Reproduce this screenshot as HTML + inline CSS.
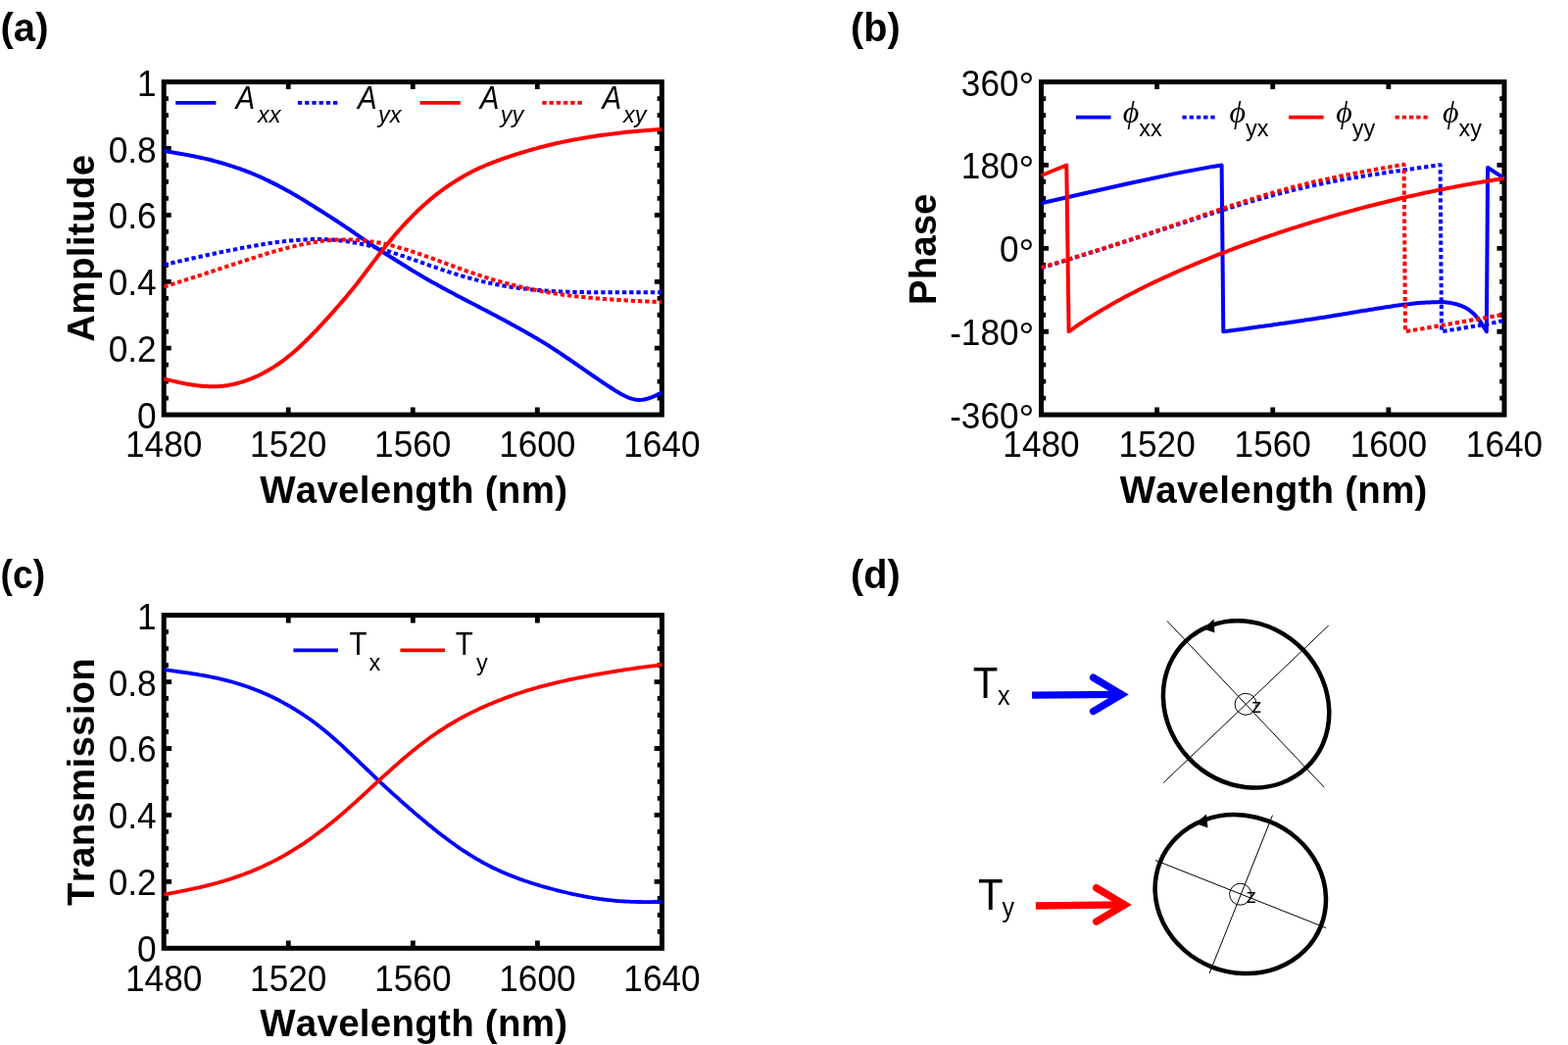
<!DOCTYPE html>
<html lang="en"><head><meta charset="utf-8"><title>Figure</title>
<style>html,body{margin:0;padding:0;background:#fff}svg{display:block}text{font-kerning:none}</style></head>
<body><svg width="1600" height="1066" viewBox="0 0 1600 1066">
<rect width="1600" height="1066" fill="#fff"/>
<path d="M294.24 423.10 v-7.50 M294.24 83.60 v7.50 M421.27 423.10 v-7.50 M421.27 83.60 v7.50 M548.31 423.10 v-7.50 M548.31 83.60 v7.50 M167.20 355.20 h7.50 M675.35 355.20 h-7.50 M167.20 287.30 h7.50 M675.35 287.30 h-7.50 M167.20 219.40 h7.50 M675.35 219.40 h-7.50 M167.20 151.50 h7.50 M675.35 151.50 h-7.50 M167.20 406.12 h4.70 M675.35 406.12 h-4.70 M167.20 389.15 h4.70 M675.35 389.15 h-4.70 M167.20 372.18 h4.70 M675.35 372.18 h-4.70 M167.20 338.23 h4.70 M675.35 338.23 h-4.70 M167.20 321.25 h4.70 M675.35 321.25 h-4.70 M167.20 304.28 h4.70 M675.35 304.28 h-4.70 M167.20 270.33 h4.70 M675.35 270.33 h-4.70 M167.20 253.35 h4.70 M675.35 253.35 h-4.70 M167.20 236.38 h4.70 M675.35 236.38 h-4.70 M167.20 202.43 h4.70 M675.35 202.43 h-4.70 M167.20 185.45 h4.70 M675.35 185.45 h-4.70 M167.20 168.48 h4.70 M675.35 168.48 h-4.70 M167.20 134.53 h4.70 M675.35 134.53 h-4.70 M167.20 117.55 h4.70 M675.35 117.55 h-4.70 M167.20 100.58 h4.70 M675.35 100.58 h-4.70" stroke="#000" stroke-width="4.8" fill="none"/>
<rect x="167.20" y="83.60" width="508.15" height="339.50" fill="none" stroke="#000" stroke-width="5.0"/>
<path d="M167.3 153.9 L169.3 154.2 L171.3 154.6 L173.3 154.9 L175.3 155.3 L177.3 155.6 L179.3 156.0 L181.3 156.3 L183.3 156.7 L185.3 157.0 L187.3 157.4 L189.3 157.8 L191.3 158.1 L193.3 158.5 L195.3 158.9 L197.3 159.3 L199.3 159.7 L201.3 160.1 L203.3 160.5 L205.3 161.0 L207.3 161.4 L209.3 161.9 L211.3 162.3 L213.3 162.8 L215.3 163.3 L217.3 163.8 L219.3 164.4 L221.3 164.9 L223.3 165.5 L225.3 166.0 L227.3 166.6 L229.3 167.2 L231.3 167.8 L233.3 168.4 L235.3 169.1 L237.3 169.7 L239.3 170.4 L241.3 171.1 L243.3 171.7 L245.3 172.4 L247.3 173.2 L249.3 173.9 L251.3 174.7 L253.3 175.4 L255.3 176.2 L257.3 177.0 L259.3 177.8 L261.3 178.7 L263.3 179.5 L265.3 180.4 L267.3 181.3 L269.3 182.2 L271.3 183.2 L273.3 184.1 L275.3 185.1 L277.3 186.1 L279.3 187.1 L281.3 188.1 L283.3 189.1 L285.3 190.2 L287.3 191.2 L289.3 192.3 L291.3 193.4 L293.3 194.5 L295.3 195.6 L297.3 196.7 L299.3 197.9 L301.3 199.0 L303.3 200.2 L305.3 201.4 L307.3 202.6 L309.3 203.8 L311.3 205.0 L313.3 206.2 L315.3 207.5 L317.3 208.7 L319.3 209.9 L321.3 211.2 L323.3 212.5 L325.3 213.7 L327.3 215.0 L329.3 216.3 L331.3 217.6 L333.3 218.8 L335.3 220.1 L337.3 221.4 L339.3 222.7 L341.3 224.0 L343.3 225.3 L345.3 226.6 L347.3 227.9 L349.3 229.3 L351.3 230.6 L353.3 231.9 L355.3 233.3 L357.3 234.6 L359.3 236.0 L361.3 237.4 L363.3 238.8 L365.3 240.2 L367.3 241.6 L369.3 243.0 L371.3 244.4 L373.3 245.8 L375.3 247.1 L377.3 248.5 L379.3 249.8 L381.3 251.2 L383.3 252.4 L385.3 253.7 L387.3 255.0 L389.3 256.3 L391.3 257.5 L393.3 258.7 L395.3 260.0 L397.3 261.2 L399.3 262.5 L401.3 263.7 L403.3 265.0 L405.3 266.2 L407.3 267.5 L409.3 268.7 L411.3 270.0 L413.3 271.2 L415.3 272.5 L417.3 273.7 L419.3 275.0 L421.3 276.2 L423.3 277.4 L425.3 278.6 L427.3 279.8 L429.3 281.0 L431.3 282.2 L433.3 283.4 L435.3 284.5 L437.3 285.7 L439.3 286.8 L441.3 287.9 L443.3 289.0 L445.3 290.1 L447.3 291.2 L449.3 292.3 L451.3 293.4 L453.3 294.5 L455.3 295.6 L457.3 296.7 L459.3 297.7 L461.3 298.8 L463.3 299.8 L465.3 300.9 L467.3 302.0 L469.3 303.0 L471.3 304.1 L473.3 305.1 L475.3 306.1 L477.3 307.2 L479.3 308.2 L481.3 309.3 L483.3 310.3 L485.3 311.3 L487.3 312.4 L489.3 313.4 L491.3 314.5 L493.3 315.5 L495.3 316.5 L497.3 317.6 L499.3 318.6 L501.3 319.7 L503.3 320.7 L505.3 321.8 L507.3 322.8 L509.3 323.9 L511.3 325.0 L513.3 326.0 L515.3 327.1 L517.3 328.2 L519.3 329.3 L521.3 330.4 L523.3 331.5 L525.3 332.6 L527.3 333.7 L529.3 334.8 L531.3 335.9 L533.3 337.0 L535.3 338.1 L537.3 339.3 L539.3 340.4 L541.3 341.5 L543.3 342.7 L545.3 343.9 L547.3 345.0 L549.3 346.2 L551.3 347.4 L553.3 348.6 L555.3 349.8 L557.3 351.1 L559.3 352.3 L561.3 353.6 L563.3 354.9 L565.3 356.2 L567.3 357.5 L569.3 358.8 L571.3 360.1 L573.3 361.5 L575.3 362.8 L577.3 364.2 L579.3 365.5 L581.3 366.9 L583.3 368.3 L585.3 369.6 L587.3 371.0 L589.3 372.4 L591.3 373.8 L593.3 375.2 L595.3 376.6 L597.3 377.9 L599.3 379.3 L601.3 380.7 L603.3 382.1 L605.3 383.5 L607.3 384.8 L609.3 386.2 L611.3 387.6 L613.3 388.9 L615.3 390.3 L617.3 391.6 L619.3 392.9 L621.3 394.2 L623.3 395.5 L625.3 396.8 L627.3 398.1 L629.3 399.3 L631.3 400.5 L633.3 401.7 L635.3 402.8 L637.3 403.8 L639.3 404.7 L641.3 405.6 L643.3 406.3 L645.3 406.9 L647.3 407.4 L649.3 407.7 L651.3 407.9 L653.3 407.9 L655.3 407.8 L657.3 407.5 L659.3 407.0 L661.3 406.5 L663.3 405.8 L665.3 405.1 L667.3 404.2 L669.3 403.4 L671.3 402.4 L673.3 401.5 L675.3 400.5" fill="none" stroke="#0000ff" stroke-width="4.0" stroke-linejoin="round"/>
<path d="M167.3 270.1 L169.3 269.6 L171.3 269.2 L173.3 268.7 L175.3 268.3 L177.3 267.8 L179.3 267.3 L181.3 266.9 L183.3 266.4 L185.3 266.0 L187.3 265.5 L189.3 265.1 L191.3 264.6 L193.3 264.2 L195.3 263.8 L197.3 263.3 L199.3 262.9 L201.3 262.4 L203.3 262.0 L205.3 261.5 L207.3 261.1 L209.3 260.7 L211.3 260.2 L213.3 259.8 L215.3 259.4 L217.3 259.0 L219.3 258.5 L221.3 258.1 L223.3 257.7 L225.3 257.3 L227.3 256.9 L229.3 256.5 L231.3 256.0 L233.3 255.6 L235.3 255.2 L237.3 254.8 L239.3 254.5 L241.3 254.1 L243.3 253.7 L245.3 253.3 L247.3 252.9 L249.3 252.5 L251.3 252.2 L253.3 251.8 L255.3 251.4 L257.3 251.1 L259.3 250.7 L261.3 250.4 L263.3 250.1 L265.3 249.7 L267.3 249.4 L269.3 249.1 L271.3 248.8 L273.3 248.4 L275.3 248.1 L277.3 247.9 L279.3 247.6 L281.3 247.3 L283.3 247.0 L285.3 246.8 L287.3 246.5 L289.3 246.3 L291.3 246.0 L293.3 245.8 L295.3 245.6 L297.3 245.4 L299.3 245.2 L301.3 245.1 L303.3 244.9 L305.3 244.8 L307.3 244.6 L309.3 244.5 L311.3 244.4 L313.3 244.3 L315.3 244.2 L317.3 244.2 L319.3 244.1 L321.3 244.1 L323.3 244.1 L325.3 244.1 L327.3 244.1 L329.3 244.2 L331.3 244.2 L333.3 244.3 L335.3 244.4 L337.3 244.5 L339.3 244.6 L341.3 244.8 L343.3 245.0 L345.3 245.2 L347.3 245.4 L349.3 245.6 L351.3 245.9 L353.3 246.1 L355.3 246.4 L357.3 246.7 L359.3 247.1 L361.3 247.4 L363.3 247.8 L365.3 248.2 L367.3 248.6 L369.3 249.0 L371.3 249.5 L373.3 249.9 L375.3 250.4 L377.3 250.9 L379.3 251.4 L381.3 251.9 L383.3 252.5 L385.3 253.0 L387.3 253.6 L389.3 254.2 L391.3 254.8 L393.3 255.4 L395.3 256.0 L397.3 256.6 L399.3 257.3 L401.3 257.9 L403.3 258.6 L405.3 259.2 L407.3 259.9 L409.3 260.6 L411.3 261.2 L413.3 261.9 L415.3 262.6 L417.3 263.3 L419.3 264.0 L421.3 264.7 L423.3 265.4 L425.3 266.1 L427.3 266.8 L429.3 267.5 L431.3 268.2 L433.3 268.9 L435.3 269.7 L437.3 270.4 L439.3 271.1 L441.3 271.8 L443.3 272.4 L445.3 273.1 L447.3 273.8 L449.3 274.5 L451.3 275.2 L453.3 275.8 L455.3 276.5 L457.3 277.2 L459.3 277.8 L461.3 278.5 L463.3 279.1 L465.3 279.7 L467.3 280.3 L469.3 280.9 L471.3 281.5 L473.3 282.1 L475.3 282.7 L477.3 283.2 L479.3 283.8 L481.3 284.3 L483.3 284.9 L485.3 285.4 L487.3 285.9 L489.3 286.4 L491.3 286.9 L493.3 287.4 L495.3 287.8 L497.3 288.3 L499.3 288.7 L501.3 289.1 L503.3 289.5 L505.3 289.9 L507.3 290.3 L509.3 290.7 L511.3 291.1 L513.3 291.4 L515.3 291.8 L517.3 292.1 L519.3 292.4 L521.3 292.7 L523.3 293.0 L525.3 293.3 L527.3 293.6 L529.3 293.9 L531.3 294.1 L533.3 294.4 L535.3 294.6 L537.3 294.8 L539.3 295.0 L541.3 295.2 L543.3 295.4 L545.3 295.6 L547.3 295.8 L549.3 296.0 L551.3 296.1 L553.3 296.3 L555.3 296.4 L557.3 296.6 L559.3 296.7 L561.3 296.8 L563.3 296.9 L565.3 297.1 L567.3 297.2 L569.3 297.3 L571.3 297.4 L573.3 297.4 L575.3 297.5 L577.3 297.6 L579.3 297.7 L581.3 297.7 L583.3 297.8 L585.3 297.9 L587.3 297.9 L589.3 298.0 L591.3 298.0 L593.3 298.1 L595.3 298.1 L597.3 298.1 L599.3 298.2 L601.3 298.2 L603.3 298.2 L605.3 298.2 L607.3 298.3 L609.3 298.3 L611.3 298.3 L613.3 298.3 L615.3 298.3 L617.3 298.3 L619.3 298.3 L621.3 298.3 L623.3 298.3 L625.3 298.3 L627.3 298.3 L629.3 298.3 L631.3 298.3 L633.3 298.3 L635.3 298.3 L637.3 298.3 L639.3 298.3 L641.3 298.3 L643.3 298.3 L645.3 298.3 L647.3 298.3 L649.3 298.3 L651.3 298.3 L653.3 298.3 L655.3 298.3 L657.3 298.3 L659.3 298.3 L661.3 298.2 L663.3 298.2 L665.3 298.2 L667.3 298.2 L669.3 298.2 L671.3 298.2 L673.3 298.2 L675.3 298.2" fill="none" stroke="#0000ff" stroke-width="4.0" stroke-linejoin="round" stroke-dasharray="4.3 2.93"/>
<path d="M167.3 386.5 L169.3 387.0 L171.3 387.5 L173.3 387.9 L175.3 388.4 L177.3 388.9 L179.3 389.3 L181.3 389.8 L183.3 390.2 L185.3 390.6 L187.3 391.0 L189.3 391.4 L191.3 391.7 L193.3 392.1 L195.3 392.4 L197.3 392.7 L199.3 393.0 L201.3 393.3 L203.3 393.5 L205.3 393.7 L207.3 393.9 L209.3 394.0 L211.3 394.1 L213.3 394.2 L215.3 394.3 L217.3 394.3 L219.3 394.2 L221.3 394.2 L223.3 394.1 L225.3 393.9 L227.3 393.7 L229.3 393.5 L231.3 393.2 L233.3 392.9 L235.3 392.5 L237.3 392.1 L239.3 391.7 L241.3 391.2 L243.3 390.7 L245.3 390.1 L247.3 389.5 L249.3 388.9 L251.3 388.2 L253.3 387.4 L255.3 386.7 L257.3 385.9 L259.3 385.0 L261.3 384.1 L263.3 383.2 L265.3 382.3 L267.3 381.3 L269.3 380.2 L271.3 379.1 L273.3 378.0 L275.3 376.8 L277.3 375.6 L279.3 374.4 L281.3 373.1 L283.3 371.8 L285.3 370.4 L287.3 369.0 L289.3 367.5 L291.3 366.0 L293.3 364.4 L295.3 362.8 L297.3 361.2 L299.3 359.5 L301.3 357.8 L303.3 356.0 L305.3 354.2 L307.3 352.3 L309.3 350.4 L311.3 348.5 L313.3 346.5 L315.3 344.5 L317.3 342.5 L319.3 340.4 L321.3 338.4 L323.3 336.3 L325.3 334.1 L327.3 332.0 L329.3 329.8 L331.3 327.6 L333.3 325.5 L335.3 323.3 L337.3 321.0 L339.3 318.8 L341.3 316.6 L343.3 314.3 L345.3 312.0 L347.3 309.7 L349.3 307.4 L351.3 305.1 L353.3 302.7 L355.3 300.3 L357.3 297.9 L359.3 295.4 L361.3 292.9 L363.3 290.4 L365.3 287.9 L367.3 285.3 L369.3 282.7 L371.3 280.1 L373.3 277.4 L375.3 274.8 L377.3 272.2 L379.3 269.5 L381.3 266.9 L383.3 264.3 L385.3 261.6 L387.3 259.1 L389.3 256.5 L391.3 254.0 L393.3 251.4 L395.3 249.0 L397.3 246.5 L399.3 244.1 L401.3 241.7 L403.3 239.3 L405.3 237.0 L407.3 234.7 L409.3 232.5 L411.3 230.3 L413.3 228.1 L415.3 226.0 L417.3 223.9 L419.3 221.8 L421.3 219.8 L423.3 217.8 L425.3 215.8 L427.3 213.9 L429.3 212.1 L431.3 210.2 L433.3 208.4 L435.3 206.7 L437.3 204.9 L439.3 203.2 L441.3 201.6 L443.3 200.0 L445.3 198.4 L447.3 196.9 L449.3 195.3 L451.3 193.9 L453.3 192.4 L455.3 191.0 L457.3 189.6 L459.3 188.3 L461.3 186.9 L463.3 185.7 L465.3 184.4 L467.3 183.2 L469.3 182.0 L471.3 180.8 L473.3 179.6 L475.3 178.5 L477.3 177.4 L479.3 176.4 L481.3 175.3 L483.3 174.3 L485.3 173.3 L487.3 172.4 L489.3 171.4 L491.3 170.5 L493.3 169.7 L495.3 168.8 L497.3 167.9 L499.3 167.1 L501.3 166.3 L503.3 165.5 L505.3 164.8 L507.3 164.0 L509.3 163.3 L511.3 162.5 L513.3 161.8 L515.3 161.1 L517.3 160.5 L519.3 159.8 L521.3 159.1 L523.3 158.5 L525.3 157.8 L527.3 157.2 L529.3 156.6 L531.3 156.0 L533.3 155.4 L535.3 154.8 L537.3 154.2 L539.3 153.6 L541.3 153.0 L543.3 152.5 L545.3 151.9 L547.3 151.4 L549.3 150.8 L551.3 150.3 L553.3 149.8 L555.3 149.3 L557.3 148.7 L559.3 148.2 L561.3 147.8 L563.3 147.3 L565.3 146.8 L567.3 146.3 L569.3 145.9 L571.3 145.5 L573.3 145.0 L575.3 144.6 L577.3 144.2 L579.3 143.8 L581.3 143.4 L583.3 143.0 L585.3 142.6 L587.3 142.2 L589.3 141.9 L591.3 141.5 L593.3 141.2 L595.3 140.8 L597.3 140.5 L599.3 140.2 L601.3 139.8 L603.3 139.5 L605.3 139.2 L607.3 138.9 L609.3 138.6 L611.3 138.3 L613.3 138.0 L615.3 137.7 L617.3 137.4 L619.3 137.2 L621.3 136.9 L623.3 136.7 L625.3 136.4 L627.3 136.2 L629.3 135.9 L631.3 135.7 L633.3 135.5 L635.3 135.3 L637.3 135.0 L639.3 134.8 L641.3 134.6 L643.3 134.4 L645.3 134.2 L647.3 134.1 L649.3 133.9 L651.3 133.7 L653.3 133.5 L655.3 133.4 L657.3 133.2 L659.3 133.0 L661.3 132.9 L663.3 132.7 L665.3 132.5 L667.3 132.4 L669.3 132.2 L671.3 132.1 L673.3 131.9 L675.3 131.7" fill="none" stroke="#ff0000" stroke-width="4.0" stroke-linejoin="round"/>
<path d="M167.3 292.5 L169.3 291.9 L171.3 291.3 L173.3 290.7 L175.3 290.0 L177.3 289.4 L179.3 288.8 L181.3 288.1 L183.3 287.5 L185.3 286.9 L187.3 286.2 L189.3 285.6 L191.3 284.9 L193.3 284.3 L195.3 283.7 L197.3 283.0 L199.3 282.4 L201.3 281.7 L203.3 281.1 L205.3 280.5 L207.3 279.8 L209.3 279.2 L211.3 278.5 L213.3 277.8 L215.3 277.2 L217.3 276.5 L219.3 275.9 L221.3 275.2 L223.3 274.5 L225.3 273.9 L227.3 273.2 L229.3 272.6 L231.3 271.9 L233.3 271.2 L235.3 270.6 L237.3 269.9 L239.3 269.3 L241.3 268.6 L243.3 267.9 L245.3 267.3 L247.3 266.6 L249.3 266.0 L251.3 265.3 L253.3 264.7 L255.3 264.0 L257.3 263.4 L259.3 262.8 L261.3 262.1 L263.3 261.5 L265.3 260.9 L267.3 260.3 L269.3 259.7 L271.3 259.0 L273.3 258.4 L275.3 257.8 L277.3 257.3 L279.3 256.7 L281.3 256.1 L283.3 255.5 L285.3 255.0 L287.3 254.4 L289.3 253.9 L291.3 253.4 L293.3 252.9 L295.3 252.3 L297.3 251.8 L299.3 251.4 L301.3 250.9 L303.3 250.4 L305.3 250.0 L307.3 249.6 L309.3 249.1 L311.3 248.7 L313.3 248.4 L315.3 248.0 L317.3 247.6 L319.3 247.3 L321.3 247.0 L323.3 246.7 L325.3 246.4 L327.3 246.1 L329.3 245.8 L331.3 245.6 L333.3 245.4 L335.3 245.2 L337.3 245.0 L339.3 244.9 L341.3 244.7 L343.3 244.6 L345.3 244.5 L347.3 244.5 L349.3 244.4 L351.3 244.4 L353.3 244.4 L355.3 244.4 L357.3 244.5 L359.3 244.5 L361.3 244.6 L363.3 244.7 L365.3 244.9 L367.3 245.0 L369.3 245.2 L371.3 245.4 L373.3 245.6 L375.3 245.9 L377.3 246.2 L379.3 246.4 L381.3 246.8 L383.3 247.1 L385.3 247.4 L387.3 247.8 L389.3 248.2 L391.3 248.6 L393.3 249.0 L395.3 249.5 L397.3 250.0 L399.3 250.4 L401.3 250.9 L403.3 251.5 L405.3 252.0 L407.3 252.6 L409.3 253.1 L411.3 253.7 L413.3 254.3 L415.3 254.9 L417.3 255.5 L419.3 256.2 L421.3 256.8 L423.3 257.5 L425.3 258.1 L427.3 258.8 L429.3 259.5 L431.3 260.2 L433.3 260.9 L435.3 261.6 L437.3 262.3 L439.3 263.0 L441.3 263.7 L443.3 264.5 L445.3 265.2 L447.3 265.9 L449.3 266.7 L451.3 267.4 L453.3 268.2 L455.3 268.9 L457.3 269.6 L459.3 270.4 L461.3 271.1 L463.3 271.8 L465.3 272.6 L467.3 273.3 L469.3 274.0 L471.3 274.7 L473.3 275.4 L475.3 276.2 L477.3 276.9 L479.3 277.6 L481.3 278.2 L483.3 278.9 L485.3 279.6 L487.3 280.3 L489.3 280.9 L491.3 281.6 L493.3 282.2 L495.3 282.9 L497.3 283.5 L499.3 284.1 L501.3 284.7 L503.3 285.3 L505.3 285.9 L507.3 286.5 L509.3 287.0 L511.3 287.6 L513.3 288.1 L515.3 288.7 L517.3 289.2 L519.3 289.7 L521.3 290.2 L523.3 290.7 L525.3 291.2 L527.3 291.7 L529.3 292.2 L531.3 292.7 L533.3 293.1 L535.3 293.6 L537.3 294.0 L539.3 294.4 L541.3 294.8 L543.3 295.2 L545.3 295.6 L547.3 296.0 L549.3 296.4 L551.3 296.8 L553.3 297.2 L555.3 297.5 L557.3 297.9 L559.3 298.2 L561.3 298.5 L563.3 298.9 L565.3 299.2 L567.3 299.5 L569.3 299.8 L571.3 300.1 L573.3 300.4 L575.3 300.7 L577.3 300.9 L579.3 301.2 L581.3 301.4 L583.3 301.7 L585.3 301.9 L587.3 302.2 L589.3 302.4 L591.3 302.6 L593.3 302.9 L595.3 303.1 L597.3 303.3 L599.3 303.5 L601.3 303.7 L603.3 303.8 L605.3 304.0 L607.3 304.2 L609.3 304.4 L611.3 304.5 L613.3 304.7 L615.3 304.9 L617.3 305.0 L619.3 305.2 L621.3 305.3 L623.3 305.4 L625.3 305.6 L627.3 305.7 L629.3 305.8 L631.3 306.0 L633.3 306.1 L635.3 306.2 L637.3 306.3 L639.3 306.4 L641.3 306.5 L643.3 306.6 L645.3 306.8 L647.3 306.9 L649.3 307.0 L651.3 307.1 L653.3 307.2 L655.3 307.2 L657.3 307.3 L659.3 307.4 L661.3 307.5 L663.3 307.6 L665.3 307.7 L667.3 307.8 L669.3 307.9 L671.3 308.0 L673.3 308.1 L675.3 308.1" fill="none" stroke="#ff0000" stroke-width="4.0" stroke-linejoin="round" stroke-dasharray="4.3 2.93"/>
<text x="167.20" y="0.00" font-family="&quot;Liberation Sans&quot;, sans-serif" font-size="35.2" text-anchor="middle" font-weight="normal" font-style="normal" transform="translate(0 466.30) scale(1 1.0350)">1480</text>
<text x="294.24" y="0.00" font-family="&quot;Liberation Sans&quot;, sans-serif" font-size="35.2" text-anchor="middle" font-weight="normal" font-style="normal" transform="translate(0 466.30) scale(1 1.0350)">1520</text>
<text x="421.27" y="0.00" font-family="&quot;Liberation Sans&quot;, sans-serif" font-size="35.2" text-anchor="middle" font-weight="normal" font-style="normal" transform="translate(0 466.30) scale(1 1.0350)">1560</text>
<text x="548.31" y="0.00" font-family="&quot;Liberation Sans&quot;, sans-serif" font-size="35.2" text-anchor="middle" font-weight="normal" font-style="normal" transform="translate(0 466.30) scale(1 1.0350)">1600</text>
<text x="675.35" y="0.00" font-family="&quot;Liberation Sans&quot;, sans-serif" font-size="35.2" text-anchor="middle" font-weight="normal" font-style="normal" transform="translate(0 466.30) scale(1 1.0350)">1640</text>
<text x="159.60" y="0.00" font-family="&quot;Liberation Sans&quot;, sans-serif" font-size="35.2" text-anchor="end" font-weight="normal" font-style="normal" transform="translate(0 437.10) scale(1 1.0350)">0</text>
<text x="159.60" y="0.00" font-family="&quot;Liberation Sans&quot;, sans-serif" font-size="35.2" text-anchor="end" font-weight="normal" font-style="normal" transform="translate(0 369.20) scale(1 1.0350)">0.2</text>
<text x="159.60" y="0.00" font-family="&quot;Liberation Sans&quot;, sans-serif" font-size="35.2" text-anchor="end" font-weight="normal" font-style="normal" transform="translate(0 301.30) scale(1 1.0350)">0.4</text>
<text x="159.60" y="0.00" font-family="&quot;Liberation Sans&quot;, sans-serif" font-size="35.2" text-anchor="end" font-weight="normal" font-style="normal" transform="translate(0 233.40) scale(1 1.0350)">0.6</text>
<text x="159.60" y="0.00" font-family="&quot;Liberation Sans&quot;, sans-serif" font-size="35.2" text-anchor="end" font-weight="normal" font-style="normal" transform="translate(0 165.50) scale(1 1.0350)">0.8</text>
<text x="159.60" y="0.00" font-family="&quot;Liberation Sans&quot;, sans-serif" font-size="35.2" text-anchor="end" font-weight="normal" font-style="normal" transform="translate(0 97.60) scale(1 1.0350)">1</text>
<text x="422.07" y="513.20" font-family="&quot;Liberation Sans&quot;, sans-serif" font-size="38.5" text-anchor="middle" font-weight="bold" font-style="normal" textLength="313.8" lengthAdjust="spacing">Wavelength (nm)</text>
<text transform="translate(95.7 253.3) rotate(-90)" font-family="&quot;Liberation Sans&quot;, sans-serif" font-size="38.5" font-weight="bold" text-anchor="middle" textLength="191" lengthAdjust="spacing">Amplitude</text>
<path d="M179.20 104.9 h41.2" stroke="#0000ff" stroke-width="3.9" fill="none"/>
<text x="240.40" y="0" transform="translate(0 110.6) scale(1 1.12)" font-family="&quot;Liberation Sans&quot;, sans-serif" font-style="italic" font-size="29.5">A</text>
<text x="263.00" y="124.9" font-family="&quot;Liberation Sans&quot;, sans-serif" font-style="italic" font-size="23.5">xx</text>
<path d="M303.90 104.9 h41.2" stroke="#0000ff" stroke-width="3.9" fill="none" stroke-dasharray="4.3 2.93"/>
<text x="365.10" y="0" transform="translate(0 110.6) scale(1 1.12)" font-family="&quot;Liberation Sans&quot;, sans-serif" font-style="italic" font-size="29.5">A</text>
<text x="386.10" y="124.9" font-family="&quot;Liberation Sans&quot;, sans-serif" font-style="italic" font-size="23.5">yx</text>
<path d="M428.60 104.9 h41.2" stroke="#ff0000" stroke-width="3.9" fill="none"/>
<text x="489.80" y="0" transform="translate(0 110.6) scale(1 1.12)" font-family="&quot;Liberation Sans&quot;, sans-serif" font-style="italic" font-size="29.5">A</text>
<text x="510.70" y="124.9" font-family="&quot;Liberation Sans&quot;, sans-serif" font-style="italic" font-size="23.5">yy</text>
<path d="M553.30 104.9 h41.2" stroke="#ff0000" stroke-width="3.9" fill="none" stroke-dasharray="4.3 2.93"/>
<text x="614.50" y="0" transform="translate(0 110.6) scale(1 1.12)" font-family="&quot;Liberation Sans&quot;, sans-serif" font-style="italic" font-size="29.5">A</text>
<text x="635.90" y="124.9" font-family="&quot;Liberation Sans&quot;, sans-serif" font-style="italic" font-size="23.5">xy</text>
<path d="M1180.62 423.10 v-7.50 M1180.62 83.60 v7.50 M1298.75 423.10 v-7.50 M1298.75 83.60 v7.50 M1416.88 423.10 v-7.50 M1416.88 83.60 v7.50 M1062.50 168.47 h7.50 M1535.00 168.47 h-7.50 M1062.50 253.35 h7.50 M1535.00 253.35 h-7.50 M1062.50 338.23 h7.50 M1535.00 338.23 h-7.50 M1062.50 100.57 h4.70 M1535.00 100.57 h-4.70 M1062.50 117.55 h4.70 M1535.00 117.55 h-4.70 M1062.50 134.52 h4.70 M1535.00 134.52 h-4.70 M1062.50 151.50 h4.70 M1535.00 151.50 h-4.70 M1062.50 185.45 h4.70 M1535.00 185.45 h-4.70 M1062.50 202.43 h4.70 M1535.00 202.43 h-4.70 M1062.50 219.40 h4.70 M1535.00 219.40 h-4.70 M1062.50 236.38 h4.70 M1535.00 236.38 h-4.70 M1062.50 270.32 h4.70 M1535.00 270.32 h-4.70 M1062.50 287.30 h4.70 M1535.00 287.30 h-4.70 M1062.50 304.27 h4.70 M1535.00 304.27 h-4.70 M1062.50 321.25 h4.70 M1535.00 321.25 h-4.70 M1062.50 355.20 h4.70 M1535.00 355.20 h-4.70 M1062.50 372.17 h4.70 M1535.00 372.17 h-4.70 M1062.50 389.15 h4.70 M1535.00 389.15 h-4.70 M1062.50 406.12 h4.70 M1535.00 406.12 h-4.70" stroke="#000" stroke-width="4.8" fill="none"/>
<rect x="1062.50" y="83.60" width="472.50" height="339.50" fill="none" stroke="#000" stroke-width="5.0"/>
<path d="M1062.5 207.2 L1100.0 198.8 L1150.0 187.5 L1200.0 176.9 L1237.5 169.9 L1246.6 168.5 L1248.3 338.2 L1250.2 338.0 L1252.2 337.7 L1254.1 337.5 L1256.0 337.2 L1258.0 337.0 L1259.9 336.7 L1261.8 336.4 L1263.8 336.2 L1265.7 335.9 L1267.6 335.7 L1269.6 335.4 L1271.5 335.2 L1273.4 334.9 L1275.4 334.6 L1277.3 334.4 L1279.2 334.1 L1281.2 333.8 L1283.1 333.6 L1285.0 333.3 L1286.9 333.0 L1288.9 332.8 L1290.8 332.5 L1292.7 332.2 L1294.7 332.0 L1296.6 331.7 L1298.5 331.4 L1300.5 331.1 L1302.4 330.9 L1304.3 330.6 L1306.3 330.3 L1308.2 330.0 L1310.1 329.8 L1312.1 329.5 L1314.0 329.2 L1315.9 328.9 L1317.9 328.6 L1319.8 328.4 L1321.7 328.1 L1323.7 327.8 L1325.6 327.5 L1327.5 327.2 L1329.5 326.9 L1331.4 326.6 L1333.3 326.3 L1335.3 326.1 L1337.2 325.8 L1339.1 325.5 L1341.1 325.2 L1343.0 324.9 L1344.9 324.6 L1346.9 324.3 L1348.8 324.0 L1350.7 323.7 L1352.6 323.4 L1354.6 323.1 L1356.5 322.8 L1358.4 322.5 L1360.4 322.1 L1362.3 321.8 L1364.2 321.5 L1366.2 321.2 L1368.1 320.9 L1370.0 320.5 L1372.0 320.2 L1373.9 319.9 L1375.8 319.6 L1377.8 319.2 L1379.7 318.9 L1381.6 318.6 L1383.6 318.3 L1385.5 317.9 L1387.4 317.6 L1389.4 317.3 L1391.3 317.0 L1393.2 316.7 L1395.2 316.4 L1397.1 316.1 L1399.0 315.8 L1401.0 315.5 L1402.9 315.1 L1404.8 314.8 L1406.8 314.5 L1408.7 314.2 L1410.6 313.9 L1412.6 313.6 L1414.5 313.3 L1416.4 313.0 L1418.3 312.7 L1420.3 312.4 L1422.2 312.1 L1424.1 311.8 L1426.1 311.6 L1428.0 311.3 L1429.9 311.1 L1431.9 310.8 L1433.8 310.6 L1435.7 310.4 L1437.7 310.2 L1439.6 309.9 L1441.5 309.7 L1443.5 309.5 L1445.4 309.3 L1447.3 309.1 L1449.3 308.9 L1451.2 308.8 L1453.1 308.7 L1455.1 308.6 L1457.0 308.5 L1458.9 308.4 L1460.9 308.3 L1462.8 308.3 L1464.7 308.2 L1466.7 308.2 L1468.6 308.1 L1470.5 308.1 L1472.5 308.1 L1474.4 308.2 L1476.3 308.4 L1478.3 308.7 L1480.2 309.0 L1482.1 309.4 L1484.0 309.8 L1486.0 310.2 L1487.9 310.8 L1489.8 311.5 L1491.8 312.2 L1493.7 313.1 L1495.6 314.1 L1497.6 315.2 L1499.5 316.5 L1501.4 318.0 L1503.4 319.7 L1505.3 321.6 L1507.2 323.9 L1509.2 326.4 L1511.1 329.0 L1513.0 331.9 L1515.0 335.0 L1516.9 338.2 L1518.1 171.0 L1535.0 181.9" fill="none" stroke="#0000ff" stroke-width="4.0" stroke-linejoin="round"/>
<path d="M1062.5 273.5 L1064.5 272.9 L1066.5 272.2 L1068.5 271.6 L1070.5 271.0 L1072.5 270.4 L1074.5 269.8 L1076.5 269.1 L1078.5 268.5 L1080.5 267.9 L1082.5 267.3 L1084.5 266.7 L1086.4 266.0 L1088.4 265.4 L1090.4 264.8 L1092.4 264.2 L1094.4 263.6 L1096.4 262.9 L1098.4 262.3 L1100.4 261.7 L1102.4 261.1 L1104.4 260.4 L1106.4 259.8 L1108.4 259.2 L1110.4 258.5 L1112.4 257.9 L1114.4 257.3 L1116.4 256.6 L1118.4 256.0 L1120.4 255.4 L1122.4 254.7 L1124.4 254.1 L1126.4 253.5 L1128.4 252.8 L1130.3 252.2 L1132.3 251.6 L1134.3 250.9 L1136.3 250.3 L1138.3 249.6 L1140.3 249.0 L1142.3 248.4 L1144.3 247.7 L1146.3 247.1 L1148.3 246.4 L1150.3 245.8 L1152.3 245.1 L1154.3 244.5 L1156.3 243.8 L1158.3 243.2 L1160.3 242.5 L1162.3 241.9 L1164.3 241.3 L1166.3 240.6 L1168.3 240.0 L1170.3 239.3 L1172.3 238.7 L1174.3 238.0 L1176.2 237.4 L1178.2 236.7 L1180.2 236.1 L1182.2 235.4 L1184.2 234.8 L1186.2 234.1 L1188.2 233.5 L1190.2 232.8 L1192.2 232.2 L1194.2 231.5 L1196.2 230.9 L1198.2 230.2 L1200.2 229.6 L1202.2 228.9 L1204.2 228.3 L1206.2 227.6 L1208.2 227.0 L1210.2 226.3 L1212.2 225.7 L1214.2 225.0 L1216.2 224.4 L1218.2 223.7 L1220.2 223.1 L1222.1 222.4 L1224.1 221.8 L1226.1 221.2 L1228.1 220.5 L1230.1 219.9 L1232.1 219.2 L1234.1 218.6 L1236.1 218.0 L1238.1 217.3 L1240.1 216.7 L1242.1 216.1 L1244.1 215.4 L1246.1 214.8 L1248.1 214.2 L1250.1 213.5 L1252.1 212.9 L1254.1 212.3 L1256.1 211.7 L1258.1 211.1 L1260.1 210.5 L1262.1 209.8 L1264.1 209.2 L1266.0 208.6 L1268.0 208.0 L1270.0 207.4 L1272.0 206.8 L1274.0 206.2 L1276.0 205.7 L1278.0 205.1 L1280.0 204.5 L1282.0 203.9 L1284.0 203.3 L1286.0 202.8 L1288.0 202.2 L1290.0 201.7 L1292.0 201.1 L1294.0 200.5 L1296.0 200.0 L1298.0 199.5 L1300.0 198.9 L1302.0 198.4 L1304.0 197.9 L1306.0 197.3 L1308.0 196.8 L1310.0 196.3 L1311.9 195.8 L1313.9 195.3 L1315.9 194.8 L1317.9 194.3 L1319.9 193.8 L1321.9 193.4 L1323.9 192.9 L1325.9 192.4 L1327.9 192.0 L1329.9 191.5 L1331.9 191.0 L1333.9 190.6 L1335.9 190.1 L1337.9 189.7 L1339.9 189.3 L1341.9 188.8 L1343.9 188.4 L1345.9 188.0 L1347.9 187.6 L1349.9 187.2 L1351.9 186.8 L1353.9 186.4 L1355.9 186.0 L1357.8 185.6 L1359.8 185.2 L1361.8 184.8 L1363.8 184.4 L1365.8 184.1 L1367.8 183.7 L1369.8 183.3 L1371.8 183.0 L1373.8 182.6 L1375.8 182.3 L1377.8 181.9 L1379.8 181.6 L1381.8 181.2 L1383.8 180.9 L1385.8 180.6 L1387.8 180.2 L1389.8 179.9 L1391.8 179.6 L1393.8 179.3 L1395.8 179.0 L1397.8 178.6 L1399.8 178.3 L1401.8 178.0 L1403.7 177.7 L1405.7 177.4 L1407.7 177.1 L1409.7 176.8 L1411.7 176.5 L1413.7 176.2 L1415.7 175.9 L1417.7 175.6 L1419.7 175.3 L1421.7 175.0 L1423.7 174.7 L1425.7 174.4 L1427.7 174.2 L1429.7 173.9 L1431.7 173.6 L1433.7 173.3 L1435.7 173.0 L1437.7 172.7 L1439.7 172.4 L1441.7 172.2 L1443.7 171.9 L1445.7 171.6 L1447.6 171.3 L1449.6 171.0 L1451.6 170.7 L1453.6 170.5 L1455.6 170.2 L1457.6 169.9 L1459.6 169.6 L1461.6 169.3 L1463.6 169.1 L1465.6 168.8 L1467.6 168.5 L1469.6 168.2 L1471.0 338.2 L1517.5 330.6 L1535.0 326.9" fill="none" stroke="#0000ff" stroke-width="4.0" stroke-linejoin="round" stroke-dasharray="4.3 2.93"/>
<path d="M1062.5 179.0 L1088.3 168.5 L1090.6 338.2 L1092.6 336.8 L1094.7 335.3 L1096.7 333.9 L1098.7 332.5 L1100.7 331.1 L1102.8 329.8 L1104.8 328.4 L1106.8 327.1 L1108.9 325.8 L1110.9 324.5 L1112.9 323.2 L1115.0 321.9 L1117.0 320.7 L1119.0 319.4 L1121.0 318.2 L1123.1 317.0 L1125.1 315.8 L1127.1 314.6 L1129.2 313.4 L1131.2 312.2 L1133.2 311.1 L1135.2 309.9 L1137.3 308.8 L1139.3 307.6 L1141.3 306.5 L1143.4 305.4 L1145.4 304.3 L1147.4 303.2 L1149.4 302.1 L1151.5 301.1 L1153.5 300.0 L1155.5 299.0 L1157.6 297.9 L1159.6 296.9 L1161.6 295.8 L1163.7 294.8 L1165.7 293.8 L1167.7 292.8 L1169.7 291.8 L1171.8 290.8 L1173.8 289.8 L1175.8 288.9 L1177.9 287.9 L1179.9 286.9 L1181.9 286.0 L1183.9 285.0 L1186.0 284.1 L1188.0 283.1 L1190.0 282.2 L1192.1 281.3 L1194.1 280.4 L1196.1 279.5 L1198.1 278.6 L1200.2 277.7 L1202.2 276.8 L1204.2 275.9 L1206.3 275.0 L1208.3 274.1 L1210.3 273.2 L1212.4 272.4 L1214.4 271.5 L1216.4 270.6 L1218.4 269.8 L1220.5 268.9 L1222.5 268.1 L1224.5 267.3 L1226.6 266.4 L1228.6 265.6 L1230.6 264.8 L1232.6 264.0 L1234.7 263.1 L1236.7 262.3 L1238.7 261.5 L1240.8 260.7 L1242.8 259.9 L1244.8 259.1 L1246.9 258.3 L1248.9 257.6 L1250.9 256.8 L1252.9 256.0 L1255.0 255.2 L1257.0 254.5 L1259.0 253.7 L1261.1 252.9 L1263.1 252.2 L1265.1 251.4 L1267.1 250.7 L1269.2 249.9 L1271.2 249.2 L1273.2 248.5 L1275.3 247.7 L1277.3 247.0 L1279.3 246.3 L1281.3 245.6 L1283.4 244.9 L1285.4 244.1 L1287.4 243.4 L1289.5 242.7 L1291.5 242.0 L1293.5 241.3 L1295.6 240.6 L1297.6 239.9 L1299.6 239.3 L1301.6 238.6 L1303.7 237.9 L1305.7 237.2 L1307.7 236.5 L1309.8 235.9 L1311.8 235.2 L1313.8 234.5 L1315.8 233.9 L1317.9 233.2 L1319.9 232.6 L1321.9 231.9 L1324.0 231.3 L1326.0 230.6 L1328.0 230.0 L1330.0 229.4 L1332.1 228.7 L1334.1 228.1 L1336.1 227.5 L1338.2 226.9 L1340.2 226.2 L1342.2 225.6 L1344.3 225.0 L1346.3 224.4 L1348.3 223.8 L1350.3 223.2 L1352.4 222.6 L1354.4 222.0 L1356.4 221.4 L1358.5 220.8 L1360.5 220.3 L1362.5 219.7 L1364.5 219.1 L1366.6 218.5 L1368.6 217.9 L1370.6 217.4 L1372.7 216.8 L1374.7 216.3 L1376.7 215.7 L1378.7 215.1 L1380.8 214.6 L1382.8 214.0 L1384.8 213.5 L1386.9 212.9 L1388.9 212.4 L1390.9 211.9 L1393.0 211.3 L1395.0 210.8 L1397.0 210.3 L1399.0 209.8 L1401.1 209.2 L1403.1 208.7 L1405.1 208.2 L1407.2 207.7 L1409.2 207.2 L1411.2 206.7 L1413.2 206.2 L1415.3 205.7 L1417.3 205.2 L1419.3 204.7 L1421.4 204.2 L1423.4 203.7 L1425.4 203.3 L1427.5 202.8 L1429.5 202.3 L1431.5 201.8 L1433.5 201.4 L1435.6 200.9 L1437.6 200.4 L1439.6 200.0 L1441.7 199.5 L1443.7 199.1 L1445.7 198.6 L1447.7 198.2 L1449.8 197.7 L1451.8 197.3 L1453.8 196.8 L1455.9 196.4 L1457.9 196.0 L1459.9 195.6 L1461.9 195.1 L1464.0 194.7 L1466.0 194.3 L1468.0 193.9 L1470.1 193.5 L1472.1 193.1 L1474.1 192.7 L1476.2 192.2 L1478.2 191.8 L1480.2 191.5 L1482.2 191.1 L1484.3 190.7 L1486.3 190.3 L1488.3 189.9 L1490.4 189.5 L1492.4 189.1 L1494.4 188.8 L1496.4 188.4 L1498.5 188.0 L1500.5 187.7 L1502.5 187.3 L1504.6 186.9 L1506.6 186.6 L1508.6 186.2 L1510.6 185.9 L1512.7 185.5 L1514.7 185.2 L1516.7 184.9 L1518.8 184.5 L1520.8 184.2 L1522.8 183.9 L1524.9 183.5 L1526.9 183.2 L1528.9 182.9 L1530.9 182.6 L1533.0 182.3 L1535.0 181.9" fill="none" stroke="#ff0000" stroke-width="4.0" stroke-linejoin="round"/>
<path d="M1062.5 272.9 L1064.5 272.3 L1066.5 271.7 L1068.5 271.1 L1070.5 270.5 L1072.4 269.9 L1074.4 269.3 L1076.4 268.7 L1078.4 268.1 L1080.4 267.5 L1082.4 266.9 L1084.4 266.3 L1086.4 265.6 L1088.4 265.0 L1090.4 264.4 L1092.3 263.8 L1094.3 263.2 L1096.3 262.6 L1098.3 262.0 L1100.3 261.4 L1102.3 260.8 L1104.3 260.1 L1106.3 259.5 L1108.3 258.9 L1110.3 258.3 L1112.2 257.7 L1114.2 257.0 L1116.2 256.4 L1118.2 255.8 L1120.2 255.1 L1122.2 254.5 L1124.2 253.9 L1126.2 253.3 L1128.2 252.6 L1130.2 252.0 L1132.1 251.3 L1134.1 250.7 L1136.1 250.1 L1138.1 249.4 L1140.1 248.8 L1142.1 248.1 L1144.1 247.5 L1146.1 246.9 L1148.1 246.2 L1150.1 245.6 L1152.0 244.9 L1154.0 244.3 L1156.0 243.6 L1158.0 243.0 L1160.0 242.3 L1162.0 241.6 L1164.0 241.0 L1166.0 240.3 L1168.0 239.7 L1169.9 239.0 L1171.9 238.4 L1173.9 237.7 L1175.9 237.0 L1177.9 236.4 L1179.9 235.7 L1181.9 235.0 L1183.9 234.4 L1185.9 233.7 L1187.9 233.0 L1189.8 232.4 L1191.8 231.7 L1193.8 231.0 L1195.8 230.4 L1197.8 229.7 L1199.8 229.0 L1201.8 228.3 L1203.8 227.7 L1205.8 227.0 L1207.8 226.3 L1209.7 225.6 L1211.7 224.9 L1213.7 224.3 L1215.7 223.6 L1217.7 222.9 L1219.7 222.2 L1221.7 221.6 L1223.7 220.9 L1225.7 220.2 L1227.7 219.5 L1229.6 218.8 L1231.6 218.2 L1233.6 217.5 L1235.6 216.8 L1237.6 216.2 L1239.6 215.5 L1241.6 214.8 L1243.6 214.1 L1245.6 213.5 L1247.5 212.8 L1249.5 212.1 L1251.5 211.5 L1253.5 210.8 L1255.5 210.2 L1257.5 209.5 L1259.5 208.8 L1261.5 208.2 L1263.5 207.5 L1265.5 206.9 L1267.4 206.3 L1269.4 205.6 L1271.4 205.0 L1273.4 204.4 L1275.4 203.7 L1277.4 203.1 L1279.4 202.5 L1281.4 201.9 L1283.4 201.2 L1285.4 200.6 L1287.3 200.0 L1289.3 199.4 L1291.3 198.8 L1293.3 198.2 L1295.3 197.7 L1297.3 197.1 L1299.3 196.5 L1301.3 195.9 L1303.3 195.4 L1305.3 194.8 L1307.2 194.3 L1309.2 193.7 L1311.2 193.2 L1313.2 192.6 L1315.2 192.1 L1317.2 191.5 L1319.2 191.0 L1321.2 190.5 L1323.2 190.0 L1325.2 189.5 L1327.1 189.0 L1329.1 188.5 L1331.1 188.0 L1333.1 187.5 L1335.1 187.0 L1337.1 186.5 L1339.1 186.0 L1341.1 185.5 L1343.1 185.1 L1345.0 184.6 L1347.0 184.2 L1349.0 183.7 L1351.0 183.3 L1353.0 182.8 L1355.0 182.4 L1357.0 181.9 L1359.0 181.5 L1361.0 181.1 L1363.0 180.7 L1364.9 180.2 L1366.9 179.8 L1368.9 179.4 L1370.9 179.0 L1372.9 178.6 L1374.9 178.2 L1376.9 177.8 L1378.9 177.4 L1380.9 177.0 L1382.9 176.7 L1384.8 176.3 L1386.8 175.9 L1388.8 175.5 L1390.8 175.2 L1392.8 174.8 L1394.8 174.4 L1396.8 174.1 L1398.8 173.7 L1400.8 173.3 L1402.8 173.0 L1404.7 172.6 L1406.7 172.3 L1408.7 171.9 L1410.7 171.6 L1412.7 171.2 L1414.7 170.9 L1416.7 170.6 L1418.7 170.2 L1420.7 169.9 L1422.7 169.5 L1424.6 169.2 L1426.6 168.8 L1428.6 168.5 L1430.6 168.2 L1432.6 167.8 L1434.0 338.2 L1471.2 331.9 L1517.5 323.8 L1535.0 320.6" fill="none" stroke="#ff0000" stroke-width="4.0" stroke-linejoin="round" stroke-dasharray="4.3 2.93"/>
<text x="1062.50" y="0.00" font-family="&quot;Liberation Sans&quot;, sans-serif" font-size="35.2" text-anchor="middle" font-weight="normal" font-style="normal" transform="translate(0 466.30) scale(1 1.0350)">1480</text>
<text x="1180.62" y="0.00" font-family="&quot;Liberation Sans&quot;, sans-serif" font-size="35.2" text-anchor="middle" font-weight="normal" font-style="normal" transform="translate(0 466.30) scale(1 1.0350)">1520</text>
<text x="1298.75" y="0.00" font-family="&quot;Liberation Sans&quot;, sans-serif" font-size="35.2" text-anchor="middle" font-weight="normal" font-style="normal" transform="translate(0 466.30) scale(1 1.0350)">1560</text>
<text x="1416.88" y="0.00" font-family="&quot;Liberation Sans&quot;, sans-serif" font-size="35.2" text-anchor="middle" font-weight="normal" font-style="normal" transform="translate(0 466.30) scale(1 1.0350)">1600</text>
<text x="1535.00" y="0.00" font-family="&quot;Liberation Sans&quot;, sans-serif" font-size="35.2" text-anchor="middle" font-weight="normal" font-style="normal" transform="translate(0 466.30) scale(1 1.0350)">1640</text>
<text x="1055.40" y="0.00" font-family="&quot;Liberation Sans&quot;, sans-serif" font-size="35.2" text-anchor="end" font-weight="normal" font-style="normal" transform="translate(0 97.60) scale(1 1.0350)">360<tspan font-size="39.5" dy="4.2">°</tspan></text>
<text x="1055.40" y="0.00" font-family="&quot;Liberation Sans&quot;, sans-serif" font-size="35.2" text-anchor="end" font-weight="normal" font-style="normal" transform="translate(0 182.47) scale(1 1.0350)">180<tspan font-size="39.5" dy="4.2">°</tspan></text>
<text x="1055.40" y="0.00" font-family="&quot;Liberation Sans&quot;, sans-serif" font-size="35.2" text-anchor="end" font-weight="normal" font-style="normal" transform="translate(0 267.35) scale(1 1.0350)">0<tspan font-size="39.5" dy="4.2">°</tspan></text>
<text x="1055.40" y="0.00" font-family="&quot;Liberation Sans&quot;, sans-serif" font-size="35.2" text-anchor="end" font-weight="normal" font-style="normal" transform="translate(0 352.23) scale(1 1.0350)">-180<tspan font-size="39.5" dy="4.2">°</tspan></text>
<text x="1055.40" y="0.00" font-family="&quot;Liberation Sans&quot;, sans-serif" font-size="35.2" text-anchor="end" font-weight="normal" font-style="normal" transform="translate(0 437.10) scale(1 1.0350)">-360<tspan font-size="39.5" dy="4.2">°</tspan></text>
<text x="1299.55" y="513.20" font-family="&quot;Liberation Sans&quot;, sans-serif" font-size="38.5" text-anchor="middle" font-weight="bold" font-style="normal" textLength="313.8" lengthAdjust="spacing">Wavelength (nm)</text>
<text transform="translate(955.2 254.2) rotate(-90)" font-family="&quot;Liberation Sans&quot;, sans-serif" font-size="38.5" font-weight="bold" text-anchor="middle">Phase</text>
<path d="M1097.90 119.6 h35.7" stroke="#0000ff" stroke-width="3.9" fill="none"/>
<text x="1145.80" y="125.2" font-family="&quot;Liberation Serif&quot;, serif" font-style="italic" font-size="32">ϕ<tspan font-family="&quot;Liberation Sans&quot;, sans-serif" font-style="normal" font-size="23.5" dy="13.5">xx</tspan></text>
<path d="M1206.45 119.6 h35.7" stroke="#0000ff" stroke-width="3.9" fill="none" stroke-dasharray="4.3 2.93"/>
<text x="1254.50" y="125.2" font-family="&quot;Liberation Serif&quot;, serif" font-style="italic" font-size="32">ϕ<tspan font-family="&quot;Liberation Sans&quot;, sans-serif" font-style="normal" font-size="23.5" dy="13.5">yx</tspan></text>
<path d="M1315.00 119.6 h35.7" stroke="#ff0000" stroke-width="3.9" fill="none"/>
<text x="1363.20" y="125.2" font-family="&quot;Liberation Serif&quot;, serif" font-style="italic" font-size="32">ϕ<tspan font-family="&quot;Liberation Sans&quot;, sans-serif" font-style="normal" font-size="23.5" dy="13.5">yy</tspan></text>
<path d="M1423.55 119.6 h35.7" stroke="#ff0000" stroke-width="3.9" fill="none" stroke-dasharray="4.3 2.93"/>
<text x="1471.90" y="125.2" font-family="&quot;Liberation Serif&quot;, serif" font-style="italic" font-size="32">ϕ<tspan font-family="&quot;Liberation Sans&quot;, sans-serif" font-style="normal" font-size="23.5" dy="13.5">xy</tspan></text>
<path d="M294.27 967.30 v-7.90 M294.27 627.60 v7.90 M421.35 967.30 v-7.90 M421.35 627.60 v7.90 M548.42 967.30 v-7.90 M548.42 627.60 v7.90 M167.20 899.36 h7.90 M675.50 899.36 h-7.90 M167.20 831.42 h7.90 M675.50 831.42 h-7.90 M167.20 763.48 h7.90 M675.50 763.48 h-7.90 M167.20 695.54 h7.90 M675.50 695.54 h-7.90 M167.20 950.31 h4.70 M675.50 950.31 h-4.70 M167.20 933.33 h4.70 M675.50 933.33 h-4.70 M167.20 916.34 h4.70 M675.50 916.34 h-4.70 M167.20 882.38 h4.70 M675.50 882.38 h-4.70 M167.20 865.39 h4.70 M675.50 865.39 h-4.70 M167.20 848.40 h4.70 M675.50 848.40 h-4.70 M167.20 814.43 h4.70 M675.50 814.43 h-4.70 M167.20 797.45 h4.70 M675.50 797.45 h-4.70 M167.20 780.46 h4.70 M675.50 780.46 h-4.70 M167.20 746.50 h4.70 M675.50 746.50 h-4.70 M167.20 729.51 h4.70 M675.50 729.51 h-4.70 M167.20 712.52 h4.70 M675.50 712.52 h-4.70 M167.20 678.56 h4.70 M675.50 678.56 h-4.70 M167.20 661.57 h4.70 M675.50 661.57 h-4.70 M167.20 644.59 h4.70 M675.50 644.59 h-4.70" stroke="#000" stroke-width="4.8" fill="none"/>
<rect x="167.20" y="627.60" width="508.30" height="339.70" fill="none" stroke="#000" stroke-width="5.0"/>
<path d="M167.3 683.2 L169.3 683.4 L171.3 683.7 L173.3 683.9 L175.3 684.2 L177.3 684.5 L179.3 684.7 L181.3 685.0 L183.2 685.3 L185.2 685.5 L187.2 685.8 L189.2 686.1 L191.2 686.4 L193.2 686.7 L195.2 687.0 L197.2 687.3 L199.2 687.6 L201.2 687.9 L203.2 688.3 L205.2 688.6 L207.2 689.0 L209.2 689.3 L211.1 689.7 L213.1 690.1 L215.1 690.5 L217.1 690.9 L219.1 691.3 L221.1 691.7 L223.1 692.2 L225.1 692.6 L227.1 693.1 L229.1 693.6 L231.1 694.1 L233.1 694.6 L235.1 695.2 L237.1 695.7 L239.0 696.3 L241.0 696.9 L243.0 697.5 L245.0 698.1 L247.0 698.7 L249.0 699.4 L251.0 700.0 L253.0 700.7 L255.0 701.4 L257.0 702.2 L259.0 702.9 L261.0 703.7 L263.0 704.5 L265.0 705.3 L266.9 706.1 L268.9 707.0 L270.9 707.8 L272.9 708.7 L274.9 709.6 L276.9 710.6 L278.9 711.5 L280.9 712.5 L282.9 713.5 L284.9 714.5 L286.9 715.6 L288.9 716.7 L290.9 717.8 L292.9 718.9 L294.8 720.0 L296.8 721.2 L298.8 722.3 L300.8 723.5 L302.8 724.8 L304.8 726.0 L306.8 727.3 L308.8 728.6 L310.8 730.0 L312.8 731.3 L314.8 732.7 L316.8 734.1 L318.8 735.6 L320.8 737.0 L322.7 738.5 L324.7 740.1 L326.7 741.6 L328.7 743.2 L330.7 744.8 L332.7 746.5 L334.7 748.1 L336.7 749.8 L338.7 751.5 L340.7 753.3 L342.7 755.0 L344.7 756.8 L346.7 758.6 L348.7 760.4 L350.7 762.3 L352.6 764.1 L354.6 766.0 L356.6 767.8 L358.6 769.7 L360.6 771.6 L362.6 773.5 L364.6 775.4 L366.6 777.4 L368.6 779.3 L370.6 781.2 L372.6 783.1 L374.6 785.0 L376.6 786.9 L378.6 788.8 L380.5 790.7 L382.5 792.6 L384.5 794.5 L386.5 796.4 L388.5 798.3 L390.5 800.1 L392.5 802.0 L394.5 803.8 L396.5 805.7 L398.5 807.5 L400.5 809.3 L402.5 811.1 L404.5 812.9 L406.5 814.7 L408.4 816.5 L410.4 818.2 L412.4 820.0 L414.4 821.7 L416.4 823.5 L418.4 825.2 L420.4 826.9 L422.4 828.7 L424.4 830.4 L426.4 832.1 L428.4 833.7 L430.4 835.4 L432.4 837.1 L434.4 838.7 L436.3 840.4 L438.3 842.0 L440.3 843.6 L442.3 845.2 L444.3 846.8 L446.3 848.4 L448.3 849.9 L450.3 851.5 L452.3 853.0 L454.3 854.5 L456.3 856.0 L458.3 857.5 L460.3 859.0 L462.3 860.4 L464.2 861.8 L466.2 863.2 L468.2 864.6 L470.2 866.0 L472.2 867.3 L474.2 868.6 L476.2 869.9 L478.2 871.2 L480.2 872.5 L482.2 873.7 L484.2 874.9 L486.2 876.1 L488.2 877.2 L490.2 878.4 L492.1 879.5 L494.1 880.6 L496.1 881.6 L498.1 882.7 L500.1 883.7 L502.1 884.7 L504.1 885.7 L506.1 886.6 L508.1 887.6 L510.1 888.5 L512.1 889.4 L514.1 890.2 L516.1 891.1 L518.1 891.9 L520.1 892.7 L522.0 893.5 L524.0 894.3 L526.0 895.1 L528.0 895.8 L530.0 896.6 L532.0 897.3 L534.0 898.0 L536.0 898.7 L538.0 899.3 L540.0 900.0 L542.0 900.6 L544.0 901.3 L546.0 901.9 L548.0 902.5 L549.9 903.1 L551.9 903.7 L553.9 904.3 L555.9 904.8 L557.9 905.4 L559.9 905.9 L561.9 906.5 L563.9 907.0 L565.9 907.5 L567.9 908.1 L569.9 908.6 L571.9 909.1 L573.9 909.6 L575.9 910.0 L577.8 910.5 L579.8 911.0 L581.8 911.4 L583.8 911.9 L585.8 912.3 L587.8 912.7 L589.8 913.1 L591.8 913.5 L593.8 913.9 L595.8 914.3 L597.8 914.7 L599.8 915.0 L601.8 915.4 L603.8 915.7 L605.7 916.1 L607.7 916.4 L609.7 916.7 L611.7 917.0 L613.7 917.2 L615.7 917.5 L617.7 917.7 L619.7 918.0 L621.7 918.2 L623.7 918.4 L625.7 918.6 L627.7 918.8 L629.7 919.0 L631.7 919.1 L633.6 919.3 L635.6 919.4 L637.6 919.5 L639.6 919.6 L641.6 919.7 L643.6 919.8 L645.6 919.9 L647.6 919.9 L649.6 920.0 L651.6 920.0 L653.6 920.0 L655.6 920.1 L657.6 920.1 L659.6 920.1 L661.5 920.1 L663.5 920.1 L665.5 920.1 L667.5 920.0 L669.5 920.0 L671.5 920.0 L673.5 920.0 L675.5 919.9" fill="none" stroke="#0000ff" stroke-width="3.8" stroke-linejoin="round"/>
<path d="M167.3 912.6 L169.3 912.2 L171.3 911.8 L173.3 911.4 L175.3 911.0 L177.3 910.6 L179.3 910.3 L181.3 909.9 L183.2 909.5 L185.2 909.1 L187.2 908.7 L189.2 908.3 L191.2 907.9 L193.2 907.4 L195.2 907.0 L197.2 906.6 L199.2 906.2 L201.2 905.7 L203.2 905.3 L205.2 904.8 L207.2 904.3 L209.2 903.9 L211.1 903.4 L213.1 902.9 L215.1 902.4 L217.1 901.8 L219.1 901.3 L221.1 900.8 L223.1 900.2 L225.1 899.6 L227.1 899.1 L229.1 898.5 L231.1 897.9 L233.1 897.2 L235.1 896.6 L237.1 896.0 L239.0 895.3 L241.0 894.6 L243.0 893.9 L245.0 893.2 L247.0 892.5 L249.0 891.8 L251.0 891.0 L253.0 890.2 L255.0 889.5 L257.0 888.7 L259.0 887.8 L261.0 887.0 L263.0 886.1 L265.0 885.3 L266.9 884.4 L268.9 883.5 L270.9 882.5 L272.9 881.6 L274.9 880.6 L276.9 879.6 L278.9 878.6 L280.9 877.6 L282.9 876.6 L284.9 875.5 L286.9 874.4 L288.9 873.3 L290.9 872.2 L292.9 871.0 L294.8 869.9 L296.8 868.7 L298.8 867.5 L300.8 866.2 L302.8 865.0 L304.8 863.7 L306.8 862.4 L308.8 861.1 L310.8 859.8 L312.8 858.4 L314.8 857.0 L316.8 855.6 L318.8 854.2 L320.8 852.8 L322.7 851.3 L324.7 849.8 L326.7 848.3 L328.7 846.8 L330.7 845.3 L332.7 843.7 L334.7 842.1 L336.7 840.5 L338.7 838.9 L340.7 837.3 L342.7 835.7 L344.7 834.0 L346.7 832.3 L348.7 830.6 L350.7 828.9 L352.6 827.1 L354.6 825.4 L356.6 823.6 L358.6 821.9 L360.6 820.1 L362.6 818.3 L364.6 816.5 L366.6 814.7 L368.6 812.8 L370.6 811.0 L372.6 809.2 L374.6 807.4 L376.6 805.5 L378.6 803.7 L380.5 801.8 L382.5 800.0 L384.5 798.2 L386.5 796.3 L388.5 794.5 L390.5 792.7 L392.5 790.9 L394.5 789.1 L396.5 787.3 L398.5 785.5 L400.5 783.7 L402.5 781.9 L404.5 780.2 L406.5 778.4 L408.4 776.7 L410.4 775.0 L412.4 773.3 L414.4 771.6 L416.4 769.9 L418.4 768.3 L420.4 766.6 L422.4 765.0 L424.4 763.4 L426.4 761.8 L428.4 760.3 L430.4 758.7 L432.4 757.2 L434.4 755.7 L436.3 754.2 L438.3 752.8 L440.3 751.4 L442.3 750.0 L444.3 748.6 L446.3 747.2 L448.3 745.9 L450.3 744.6 L452.3 743.3 L454.3 742.0 L456.3 740.7 L458.3 739.5 L460.3 738.3 L462.3 737.1 L464.2 736.0 L466.2 734.8 L468.2 733.7 L470.2 732.6 L472.2 731.5 L474.2 730.5 L476.2 729.4 L478.2 728.4 L480.2 727.4 L482.2 726.4 L484.2 725.4 L486.2 724.5 L488.2 723.5 L490.2 722.6 L492.1 721.7 L494.1 720.8 L496.1 719.9 L498.1 719.1 L500.1 718.2 L502.1 717.4 L504.1 716.5 L506.1 715.7 L508.1 714.9 L510.1 714.2 L512.1 713.4 L514.1 712.6 L516.1 711.9 L518.1 711.1 L520.1 710.4 L522.0 709.7 L524.0 709.0 L526.0 708.3 L528.0 707.6 L530.0 707.0 L532.0 706.3 L534.0 705.7 L536.0 705.0 L538.0 704.4 L540.0 703.8 L542.0 703.2 L544.0 702.6 L546.0 702.0 L548.0 701.5 L549.9 700.9 L551.9 700.4 L553.9 699.8 L555.9 699.3 L557.9 698.8 L559.9 698.3 L561.9 697.8 L563.9 697.3 L565.9 696.8 L567.9 696.3 L569.9 695.9 L571.9 695.4 L573.9 695.0 L575.9 694.5 L577.8 694.1 L579.8 693.7 L581.8 693.2 L583.8 692.8 L585.8 692.4 L587.8 692.0 L589.8 691.6 L591.8 691.2 L593.8 690.8 L595.8 690.4 L597.8 690.0 L599.8 689.7 L601.8 689.3 L603.8 688.9 L605.7 688.5 L607.7 688.2 L609.7 687.8 L611.7 687.5 L613.7 687.1 L615.7 686.8 L617.7 686.4 L619.7 686.1 L621.7 685.8 L623.7 685.4 L625.7 685.1 L627.7 684.8 L629.7 684.5 L631.7 684.2 L633.6 683.9 L635.6 683.5 L637.6 683.2 L639.6 682.9 L641.6 682.6 L643.6 682.4 L645.6 682.1 L647.6 681.8 L649.6 681.5 L651.6 681.2 L653.6 680.9 L655.6 680.7 L657.6 680.4 L659.6 680.1 L661.5 679.9 L663.5 679.6 L665.5 679.3 L667.5 679.1 L669.5 678.8 L671.5 678.5 L673.5 678.3 L675.5 678.0" fill="none" stroke="#ff0000" stroke-width="3.8" stroke-linejoin="round"/>
<text x="167.20" y="0.00" font-family="&quot;Liberation Sans&quot;, sans-serif" font-size="35.2" text-anchor="middle" font-weight="normal" font-style="normal" transform="translate(0 1010.50) scale(1 1.0350)">1480</text>
<text x="294.27" y="0.00" font-family="&quot;Liberation Sans&quot;, sans-serif" font-size="35.2" text-anchor="middle" font-weight="normal" font-style="normal" transform="translate(0 1010.50) scale(1 1.0350)">1520</text>
<text x="421.35" y="0.00" font-family="&quot;Liberation Sans&quot;, sans-serif" font-size="35.2" text-anchor="middle" font-weight="normal" font-style="normal" transform="translate(0 1010.50) scale(1 1.0350)">1560</text>
<text x="548.42" y="0.00" font-family="&quot;Liberation Sans&quot;, sans-serif" font-size="35.2" text-anchor="middle" font-weight="normal" font-style="normal" transform="translate(0 1010.50) scale(1 1.0350)">1600</text>
<text x="675.50" y="0.00" font-family="&quot;Liberation Sans&quot;, sans-serif" font-size="35.2" text-anchor="middle" font-weight="normal" font-style="normal" transform="translate(0 1010.50) scale(1 1.0350)">1640</text>
<text x="159.60" y="0.00" font-family="&quot;Liberation Sans&quot;, sans-serif" font-size="35.2" text-anchor="end" font-weight="normal" font-style="normal" transform="translate(0 981.30) scale(1 1.0350)">0</text>
<text x="159.60" y="0.00" font-family="&quot;Liberation Sans&quot;, sans-serif" font-size="35.2" text-anchor="end" font-weight="normal" font-style="normal" transform="translate(0 913.36) scale(1 1.0350)">0.2</text>
<text x="159.60" y="0.00" font-family="&quot;Liberation Sans&quot;, sans-serif" font-size="35.2" text-anchor="end" font-weight="normal" font-style="normal" transform="translate(0 845.42) scale(1 1.0350)">0.4</text>
<text x="159.60" y="0.00" font-family="&quot;Liberation Sans&quot;, sans-serif" font-size="35.2" text-anchor="end" font-weight="normal" font-style="normal" transform="translate(0 777.48) scale(1 1.0350)">0.6</text>
<text x="159.60" y="0.00" font-family="&quot;Liberation Sans&quot;, sans-serif" font-size="35.2" text-anchor="end" font-weight="normal" font-style="normal" transform="translate(0 709.54) scale(1 1.0350)">0.8</text>
<text x="159.60" y="0.00" font-family="&quot;Liberation Sans&quot;, sans-serif" font-size="35.2" text-anchor="end" font-weight="normal" font-style="normal" transform="translate(0 641.60) scale(1 1.0350)">1</text>
<text x="422.15" y="1057.40" font-family="&quot;Liberation Sans&quot;, sans-serif" font-size="38.5" text-anchor="middle" font-weight="bold" font-style="normal" textLength="313.8" lengthAdjust="spacing">Wavelength (nm)</text>
<text transform="translate(95.7 797.5) rotate(-90)" font-family="&quot;Liberation Sans&quot;, sans-serif" font-size="38.5" font-weight="bold" text-anchor="middle" textLength="252.8" lengthAdjust="spacing">Transmission</text>
<path d="M299.4 663.4 h45.6" stroke="#0000ff" stroke-width="3.9" fill="none"/>
<path d="M408.4 663.4 h45.6" stroke="#ff0000" stroke-width="3.9" fill="none"/>
<text x="356.40" y="0" transform="translate(0 668.0) scale(1 1.12)" font-family="&quot;Liberation Sans&quot;, sans-serif" font-size="29.5">T</text>
<text x="376.60" y="684.2" font-family="&quot;Liberation Sans&quot;, sans-serif" font-size="23.5">x</text>
<text x="464.70" y="0" transform="translate(0 668.0) scale(1 1.12)" font-family="&quot;Liberation Sans&quot;, sans-serif" font-size="29.5">T</text>
<text x="486.00" y="684.2" font-family="&quot;Liberation Sans&quot;, sans-serif" font-size="23.5">y</text>
<ellipse cx="0" cy="0" rx="89.20" ry="80.40" transform="translate(1271.60 718.40) rotate(46.60)" fill="none" stroke="#000" stroke-width="4.5"/>
<path d="M1190.9 633.4 L1351.3 803.2 M1187.2 798.5 L1355.7 638.1" stroke="#000" stroke-width="1" fill="none"/>
<circle cx="1271.1" cy="718.3" r="11" fill="none" stroke="#000" stroke-width="1"/>
<path d="M1228 641.5 L1238.5 631.5 L1239.5 645.5 Z" fill="#000"/>
<ellipse cx="0" cy="0" rx="88.30" ry="79.80" transform="translate(1265.80 912.10) rotate(21.60)" fill="none" stroke="#000" stroke-width="4.5"/>
<path d="M1178.8 877.5 L1353.2 946.6 M1234.1 992.9 L1298.5 831.6" stroke="#000" stroke-width="1" fill="none"/>
<circle cx="1265.6" cy="912.2" r="11" fill="none" stroke="#000" stroke-width="1"/>
<path d="M1220 840 L1231 830.5 L1232.5 844.5 Z" fill="#000"/>
<text x="1277.00" y="727.00" font-family="&quot;Liberation Sans&quot;, sans-serif" font-size="21" text-anchor="start" font-weight="normal" font-style="normal">z</text>
<text x="1271.50" y="921.00" font-family="&quot;Liberation Sans&quot;, sans-serif" font-size="21" text-anchor="start" font-weight="normal" font-style="normal">z</text>
<path d="M1053.1 709.1 L1145.5 708.4" stroke="#0000ff" stroke-width="7.4" fill="none"/>
<path d="M1115.6 691.2 L1144.5 708.4 L1115.6 725.6" stroke="#0000ff" stroke-width="7.4" fill="none" stroke-linecap="round" stroke-linejoin="miter" stroke-miterlimit="10"/>
<path d="M1056.9 924.0 L1148.6 922.9" stroke="#ff0000" stroke-width="7.4" fill="none"/>
<path d="M1118.7 905.7 L1147.6 922.9 L1118.7 940.1" stroke="#ff0000" stroke-width="7.4" fill="none" stroke-linecap="round" stroke-linejoin="miter" stroke-miterlimit="10"/>
<text x="992.85" y="711.50" font-family="&quot;Liberation Sans&quot;, sans-serif" font-size="44" textLength="25.6" lengthAdjust="spacingAndGlyphs">T</text>
<text x="1017.90" y="718.75" font-family="&quot;Liberation Sans&quot;, sans-serif" font-size="27.9" textLength="12.6" lengthAdjust="spacingAndGlyphs">x</text>
<text x="998.10" y="928.10" font-family="&quot;Liberation Sans&quot;, sans-serif" font-size="44" textLength="25.6" lengthAdjust="spacingAndGlyphs">T</text>
<text x="1022.40" y="935.00" font-family="&quot;Liberation Sans&quot;, sans-serif" font-size="27.9" textLength="12.6" lengthAdjust="spacingAndGlyphs">y</text>
<text x="0.5" y="41.9" font-family="&quot;Liberation Sans&quot;, sans-serif" font-weight="bold" font-size="40.5" textLength="49.0" lengthAdjust="spacingAndGlyphs">(a)</text>
<text x="868.0" y="41.9" font-family="&quot;Liberation Sans&quot;, sans-serif" font-weight="bold" font-size="40.5" textLength="50.6" lengthAdjust="spacingAndGlyphs">(b)</text>
<text x="0.5" y="599.5" font-family="&quot;Liberation Sans&quot;, sans-serif" font-weight="bold" font-size="40.5" textLength="45.6" lengthAdjust="spacingAndGlyphs">(c)</text>
<text x="868.0" y="599.5" font-family="&quot;Liberation Sans&quot;, sans-serif" font-weight="bold" font-size="40.5" textLength="50.6" lengthAdjust="spacingAndGlyphs">(d)</text>
</svg></body></html>
